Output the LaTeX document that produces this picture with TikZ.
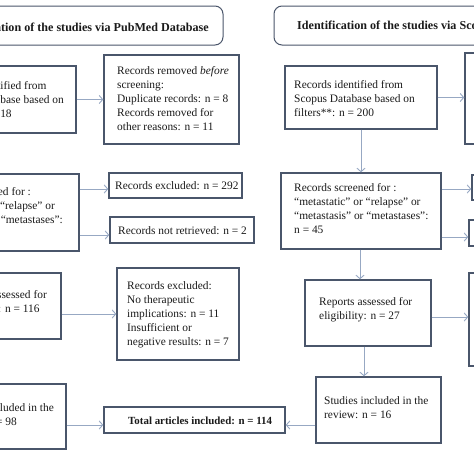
\documentclass[tikz,border=0pt]{standalone}
\usepackage{fontspec}
\setmainfont{Liberation Serif}
\usetikzlibrary{arrows.meta}
\definecolor{boxc}{HTML}{4A566B}
\definecolor{arrc}{HTML}{97A8C3}
\definecolor{txtc}{HTML}{1A1A1A}
\tikzset{
  box/.style={draw=boxc, line width=1.4pt, rectangle, inner sep=0pt},
  hdr/.style={draw=boxc, line width=1pt, rectangle, rounded corners=8pt, inner sep=0pt},
  txt/.style={text=txtc, align=left, inner sep=0pt, font=\fontsize{11.4}{14}\selectfont},
  htxt/.style={text=txtc, inner sep=0pt, font=\fontsize{12.1}{14}\selectfont\bfseries},
  ttxt/.style={text=txtc, inner sep=0pt, font=\fontsize{10.9}{14}\selectfont\bfseries},
  arr/.style={draw=arrc, line width=0.9pt, -{Straight Barb[length=3.5pt,width=8pt]}}
}
\begin{document}
\begin{tikzpicture}[x=1pt,y=-1pt]
\useasboundingbox (0,0) rectangle (474,474);
\fill[white] (0,0) rectangle (474,474);
\clip (0,0) rectangle (474,474);
% headers
\node[hdr, minimum width=313pt, minimum height=39pt] (HL) at (66.5,25.5) {};
\node[htxt, anchor=east] (tHL) at (209,27) {Identification of the studies via PubMed Database};
\node[hdr, minimum width=326pt, minimum height=39pt] (HR) at (437,25.5) {};
\node[htxt, anchor=west] (tHR) at (297,27) {Identification of the studies via Scopus Database};
% boxes
\node[box, minimum width=156pt, minimum height=67pt] (A1) at (-2,99.5) {};
\node[box, minimum width=135pt, minimum height=89pt] (B1) at (171.5,99.5) {};
\node[box, minimum width=152pt, minimum height=63pt] (A2) at (361,97.5) {};
\node[box, minimum width=135pt, minimum height=91pt] (B2) at (532.5,98.5) {};
\node[box, minimum width=160pt, minimum height=77pt] (C1) at (-1,212.5) {};
\node[box, minimum width=133pt, minimum height=25pt] (D1) at (175.5,185.5) {};
\node[box, minimum width=144pt, minimum height=26pt] (E1) at (182,230) {};
\node[box, minimum width=160pt, minimum height=76pt] (C2) at (361,211) {};
\node[box, minimum width=128pt, minimum height=25pt] (D2) at (536,187.5) {};
\node[box, minimum width=131pt, minimum height=26pt] (E2) at (534.5,233) {};
\node[box, minimum width=121pt, minimum height=66pt] (F1) at (0.5,306) {};
\node[box, minimum width=122pt, minimum height=92pt] (G1) at (178,314) {};
\node[box, minimum width=126pt, minimum height=66pt] (F2) at (368,313) {};
\node[box, minimum width=131pt, minimum height=93pt] (H2) at (534.5,319.5) {};
\node[box, minimum width=126pt, minimum height=65pt] (S1) at (3,416.5) {};
\node[box, minimum width=181pt, minimum height=26pt] (T) at (194.5,420) {};
\node[box, minimum width=125pt, minimum height=66pt] (S2) at (378.5,410) {};
% texts
\node[txt, anchor=east] (tA1) at (64,99.5) {Records identified from\\PubMed Database based on\\filters*: n = 418};
\node[txt, anchor=west] (tB1) at (117,99) {Records removed \emph{before}\\screening:\\Duplicate records: n = 8\\Records removed for\\other reasons: n = 11};
\node[txt, anchor=west] (tA2) at (294,99) {Records identified from\\Scopus Database based on\\filters**: n = 200};
\node[txt, anchor=east] (tC1) at (63,212.5) {Records screened for :\\“metastatic” or “relapse” or\\“metastasis” or “metastases”:\\n = 410};
\node[txt, anchor=west] (tD1) at (115,186) {Records excluded: n = 292};
\node[txt, anchor=west] (tE1) at (118,231) {Records not retrieved: n = 2};
\node[txt, anchor=west] (tC2) at (294,209) {Records screened for :\\“metastatic” or “relapse” or\\“metastasis” or “metastases”:\\n = 45};
\node[txt, anchor=east] (tF1) at (47,303) {Reports assessed for\\eligibility: n = 116};
\node[txt, anchor=west] (tG1) at (127,315) {Records excluded:\\No therapeutic\\implications: n = 11\\Insufficient or\\negative results: n = 7};
\node[txt, anchor=west] (tF2) at (319,309.5) {Reports assessed for\\eligibility: n = 27};
\node[txt, anchor=east] (tS1) at (54,415) {Studies included in the\\review: n = 98};
\node[ttxt, anchor=west] (tT) at (128,421) {Total articles included: n = 114};
\node[txt, anchor=west] (tS2) at (324,408) {Studies included in the\\review: n = 16};
% connectors
\coordinate (y189) at (0,189);
\coordinate (y235) at (0,235);
\coordinate (y237) at (0,237);
\coordinate (y317) at (0,317);
\coordinate (y425) at (0,425);
\coordinate (x360) at (360,0);
\coordinate (x364) at (364,0);
\draw[arr] (A1.east) -- (A1.east -| B1.west);
\draw[arr] (A2.east) -- (A2.east -| B2.west);
\draw[arr] (A2.south) -- (A2.south |- C2.north);
\draw[arr] (C1.east |- y189) -- (D1.west |- y189);
\draw[arr] (C1.east |- y235) -- (E1.west |- y235);
\draw[arr] (C2.east |- y189) -- (D2.west |- y189);
\draw[arr] (C2.east |- y237) -- (E2.west |- y237);
\draw[arr] (x360 |- C2.south) -- (x360 |- F2.north);
\draw[arr] (F1.east |- G1.west) -- (G1.west);
\draw[arr] (F2.east |- y317) -- (H2.west |- y317);
\draw[arr] (x364 |- F2.south) -- (x364 |- S2.north);
\draw[arr] (S1.east |- y425) -- (T.west |- y425);
\draw[arr] (S2.west |- y425) -- (T.east |- y425);
\end{tikzpicture}
\end{document}
